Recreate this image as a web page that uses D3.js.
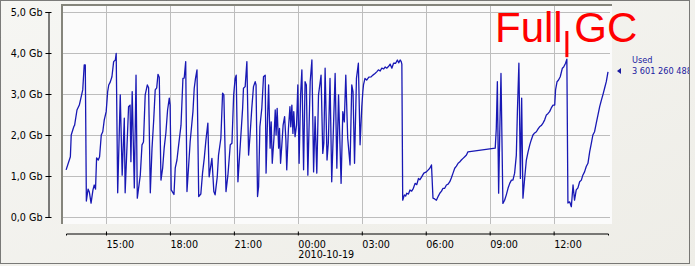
<!DOCTYPE html>
<html>
<head>
<meta charset="utf-8">
<script src="https://cdn.jsdelivr.net/npm/d3@7"></script>
<style>
  html, body { margin: 0; padding: 0; background: #f3f2ee; }
  svg { display: block; }
</style>
</head>
<body>
<div id="viz"></div>
<script>
// hours since 2010-10-18 00:00
var hours = [
  13.13,13.33,13.37,13.49,13.53,13.64,13.75,13.91,13.98,14.03,14.08,14.16,14.22,14.30,14.39,14.45,14.51,14.56,14.64,14.70,
  14.78,14.85,14.92,15.01,15.08,15.13,15.20,15.28,15.36,15.44,15.48,15.55,15.67,15.76,15.86,15.90,16.06,16.13,16.17,16.23,
  16.33,16.41,16.47,16.61,16.69,16.76,16.84,16.94,17.00,17.08,17.16,17.24,17.31,17.38,17.44,17.50,17.58,17.66,17.73,17.81,
  17.89,17.97,18.01,18.06,18.19,18.25,18.33,18.41,18.52,18.61,18.67,18.74,18.80,18.88,18.95,19.08,19.14,19.20,19.27,19.35,
  19.45,19.53,19.61,19.69,19.78,19.84,19.97,20.06,20.12,20.22,20.28,20.39,20.47,20.53,20.63,20.72,20.83,20.91,20.99,21.06,
  21.11,21.19,21.30,21.41,21.45,21.53,21.61,21.69,21.76,21.84,21.92,22.00,22.04,22.11,22.16,22.22,22.31,22.39,22.47,22.51,
  22.58,22.63,22.70,22.75,22.80,22.88,22.94,22.98,23.03,23.10,23.14,23.19,23.25,23.31,23.38,23.44,23.48,23.56,23.63,23.67,
  23.72,23.77,23.81,23.87,23.94,24.00,24.06,24.13,24.19,24.27,24.34,24.40,24.47,24.58,24.66,24.74,24.81,24.89,24.97,25.09,
  25.17,25.22,25.28,25.37,25.43,25.51,25.59,25.67,25.75,25.83,25.91,26.03,26.11,26.18,26.25,26.34,26.45,26.53,26.59,26.66,
  26.75,26.84,26.92,27.00,27.05,27.08,27.15,27.23,27.33,27.44,27.52,27.62,27.70,27.78,27.86,27.94,28.03,28.10,28.17,28.25,
  28.33,28.41,28.49,28.59,28.67,28.73,28.80,28.85,28.88,28.92,29.00,29.06,29.11,29.19,29.26,29.34,29.42,29.50,29.58,29.66,
  29.73,29.81,29.91,30.03,30.12,30.19,30.27,30.34,30.42,30.50,30.59,30.66,30.74,30.81,30.89,30.97,31.05,31.13,31.20,31.28,
  31.36,31.44,31.52,31.59,31.67,31.75,31.83,31.91,31.98,33.26,33.31,33.36,33.42,33.47,33.53,33.62,33.70,33.78,33.86,33.94,
  34.02,34.09,34.17,34.25,34.30,34.37,34.44,34.50,34.56,34.64,34.72,34.80,34.88,34.95,35.03,35.11,35.19,35.27,35.34,35.42,
  35.50,35.58,35.66,35.73,35.81,35.89,35.97,36.05,36.09,36.16,36.23,36.31,36.41,36.47,36.56,36.62,36.67,36.75,36.83,36.91,
  36.98,37.06,37.14,37.22,37.30,37.37,37.45,37.53,37.61,37.69,37.77,37.84,37.92,38.00,38.08,38.16,38.24,38.31,38.39,38.47,
  38.55
];

// used heap, Gb
var used = [
  1.15,1.47,2.00,2.20,2.24,2.61,2.73,3.10,3.71,3.71,0.39,0.68,0.61,0.34,0.66,0.78,0.68,1.44,1.39,1.47,
  2.00,2.08,2.37,2.57,3.06,3.22,3.29,3.42,3.79,3.83,3.99,0.59,2.98,1.02,2.41,0.59,2.69,2.73,1.35,3.06,
  0.71,3.46,0.46,1.02,1.76,1.83,2.98,3.22,3.15,0.59,1.68,2.37,3.10,3.15,3.48,3.41,0.90,1.20,1.68,2.05,
  2.61,2.90,2.73,0.66,0.55,1.20,1.39,1.76,2.24,3.38,3.39,3.79,0.62,1.27,1.84,2.57,3.14,3.38,3.59,0.50,
  0.56,1.07,1.43,1.88,2.29,0.98,1.43,0.62,0.54,0.98,1.51,1.92,3.02,2.98,0.62,1.02,1.76,1.80,2.98,3.38,
  3.46,0.86,1.76,2.65,3.14,3.18,3.79,1.51,2.00,2.65,3.18,3.30,3.22,0.50,0.74,2.20,2.65,3.42,3.46,1.07,
  2.41,3.22,1.68,2.32,1.31,1.92,2.61,2.00,2.65,1.68,2.16,1.31,1.76,2.24,2.45,1.88,1.15,2.16,2.69,2.20,
  2.73,2.04,2.57,1.96,2.24,3.22,1.31,2.98,3.59,1.15,3.30,3.22,1.02,3.30,3.83,1.10,2.45,1.07,2.98,3.46,
  1.55,1.80,3.63,1.39,1.80,3.38,0.86,2.16,3.50,1.19,2.98,0.82,2.57,2.32,3.46,1.92,1.27,3.22,3.05,1.31,
  3.38,3.75,1.76,2.69,3.06,3.22,3.38,3.34,3.41,3.42,3.46,3.50,3.54,3.59,3.56,3.63,3.61,3.66,3.63,3.67,
  3.73,3.63,3.75,3.75,3.83,3.76,3.83,3.79,3.73,0.41,0.54,0.51,0.58,0.56,0.66,0.63,0.70,0.82,0.79,0.94,
  0.91,0.98,1.07,1.10,1.15,1.19,1.27,0.46,0.44,0.41,0.51,0.58,0.63,0.70,0.70,0.78,0.80,0.86,0.95,1.07,
  1.19,1.24,1.31,1.34,1.39,1.43,1.47,1.51,1.59,1.68,2.16,3.30,0.58,2.00,3.50,0.33,0.41,0.54,0.70,0.82,
  0.90,0.90,1.07,1.51,2.57,3.75,0.94,2.90,0.46,0.94,1.39,1.59,1.76,1.88,2.00,2.05,2.08,2.15,2.20,2.23,
  2.29,2.37,2.49,2.52,2.57,2.66,2.73,2.73,3.10,3.30,3.34,3.42,3.63,3.66,3.75,3.85,0.34,0.37,0.25,0.78,
  0.41,0.66,0.71,0.86,0.90,1.02,1.10,1.23,1.31,1.59,1.80,2.00,2.08,2.29,2.49,2.69,2.85,2.98,3.14,3.30,
  3.54
];

var yTicks = [0, 1, 2, 3, 4, 5];
var seriesName = 'Used';
var lastValueText = '3 601 260 488';
var fullGcHour = 36.62;
var fullGcLabel = 'Full GC';

var width = 695, height = 266;
var start = new Date(2010, 9, 18);
function toDate(h) { return new Date(start.getTime() + h * 3600e3); }

var data = hours.map(function(h, i) { return {date: toDate(h), used: used[i]}; });

var x = d3.scaleTime()
  .domain([toDate(13.125), toDate(38.55)])
  .range([66, 608]);

var y = d3.scaleLinear()
  .domain([0, 5])
  .range([217, 12]);

var svg = d3.select('#viz').append('svg')
  .attr('width', width)
  .attr('height', height);

var defs = svg.append('defs');
var grad = defs.append('linearGradient').attr('id', 'bg').attr('x1', 0).attr('y1', 0).attr('x2', 1).attr('y2', 1);
grad.append('stop').attr('offset', '0%').attr('stop-color', '#f6f6f3');
grad.append('stop').attr('offset', '100%').attr('stop-color', '#eeede7');
defs.append('clipPath').attr('id', 'clipAll')
  .append('rect').attr('x', 0).attr('y', 0).attr('width', 689).attr('height', 263);

svg.append('rect')
  .attr('width', width).attr('height', height)
  .attr('fill', 'url(#bg)');

// plot area
svg.append('rect')
  .attr('x', 63).attr('y', 5)
  .attr('width', 549).attr('height', 219)
  .attr('fill', '#fbfbfb');

var grid = svg.append('g').attr('class', 'grid')
  .attr('stroke', '#bdbdbd').attr('stroke-width', 1);

grid.selectAll('line.h')
  .data(yTicks)
  .join('line')
  .attr('class', 'h')
  .attr('x1', 63).attr('x2', 610)
  .attr('y1', d => Math.round(y(d)) + 0.5)
  .attr('y2', d => Math.round(y(d)) + 0.5);

var xTicks = x.ticks(d3.timeHour.every(3));

grid.selectAll('line.v')
  .data(xTicks)
  .join('line')
  .attr('class', 'v')
  .attr('y1', 5).attr('y2', 224)
  .attr('x1', d => Math.round(x(d)) + 0.5)
  .attr('x2', d => Math.round(x(d)) + 0.5);

// frame (left + top)
svg.append('path')
  .attr('d', 'M62,224V5H612')
  .attr('fill', 'none')
  .attr('stroke', '#85857c')
  .attr('stroke-width', 2);

// series
var line = d3.line()
  .x(d => x(d.date))
  .y(d => y(d.used));

svg.append('path')
  .datum(data)
  .attr('fill', 'none')
  .attr('stroke', '#1818b4')
  .attr('stroke-width', 1.3)
  .attr('stroke-linejoin', 'round')
  .attr('d', line);

// y axis
var yAxis = svg.append('g')
  .attr('transform', 'translate(48.5,0)')
  .call(d3.axisLeft(y).tickValues(yTicks).tickSizeOuter(0).tickSize(3)
    .tickFormat(d => d.toFixed(1).replace('.', ',') + ' Gb'));
yAxis.selectAll('.tick line').attr('x1', -3).attr('x2', 3);
yAxis.selectAll('text').attr('x', -6);

// x axis
var xAxis = svg.append('g')
  .attr('transform', 'translate(0,233.5)')
  .call(d3.axisBottom(x).ticks(d3.timeHour.every(3)).tickSizeOuter(0).tickSize(2)
    .tickFormat(d3.timeFormat('%H:%M')));
xAxis.selectAll('.tick line').attr('y1', -2).attr('y2', 2);
xAxis.selectAll('.tick text')
  .attr('text-anchor', 'start')
  .attr('x', 0)
  .attr('y', 8);
xAxis.selectAll('.tick')
  .filter(d => d.getHours() === 0)
  .append('text')
  .attr('fill', '#000')
  .attr('text-anchor', 'start')
  .attr('y', 18)
  .attr('dy', '0.71em')
  .text(d3.timeFormat('%Y-%m-%d'));

svg.selectAll('.tick text')
  .attr('font-family', '"DejaVu Sans", sans-serif')
  .attr('font-size', 9.6)
  .attr('fill', '#000');

// legend with last value
var last = data[data.length - 1];
var legend = svg.append('g').attr('clip-path', 'url(#clipAll)')
  .attr('fill', '#1a1aa0')
  .attr('font-family', '"DejaVu Sans", sans-serif')
  .attr('font-size', 8.2);
var ly = Math.round(y(last.used)) - 1;
legend.append('path')
  .attr('d', 'M617,' + ly + 'l4,-3v6z');
legend.append('text')
  .attr('x', 632).attr('y', ly - 8)
  .text(seriesName);
legend.append('text')
  .attr('x', 632).attr('y', ly + 3)
  .text(lastValueText);

// Full GC annotation
var gx = x(toDate(fullGcHour));
svg.append('line')
  .attr('x1', gx).attr('x2', gx)
  .attr('y1', 31).attr('y2', y(3.85) - 2)
  .attr('stroke', '#ff0000')
  .attr('stroke-width', 3);
svg.append('text')
  .attr('x', 495).attr('y', 42)
  .attr('font-family', '"Liberation Sans", Arial, sans-serif')
  .attr('font-size', 42)
  .attr('fill', '#ff0000')
  .text(fullGcLabel);

// dotted outer border
svg.append('rect')
  .attr('x', 0.5).attr('y', 0.5)
  .attr('width', 689).attr('height', 263)
  .attr('fill', 'none')
  .attr('stroke', '#000')
  .attr('stroke-dasharray', '1,1');
</script>
</body>
</html>
